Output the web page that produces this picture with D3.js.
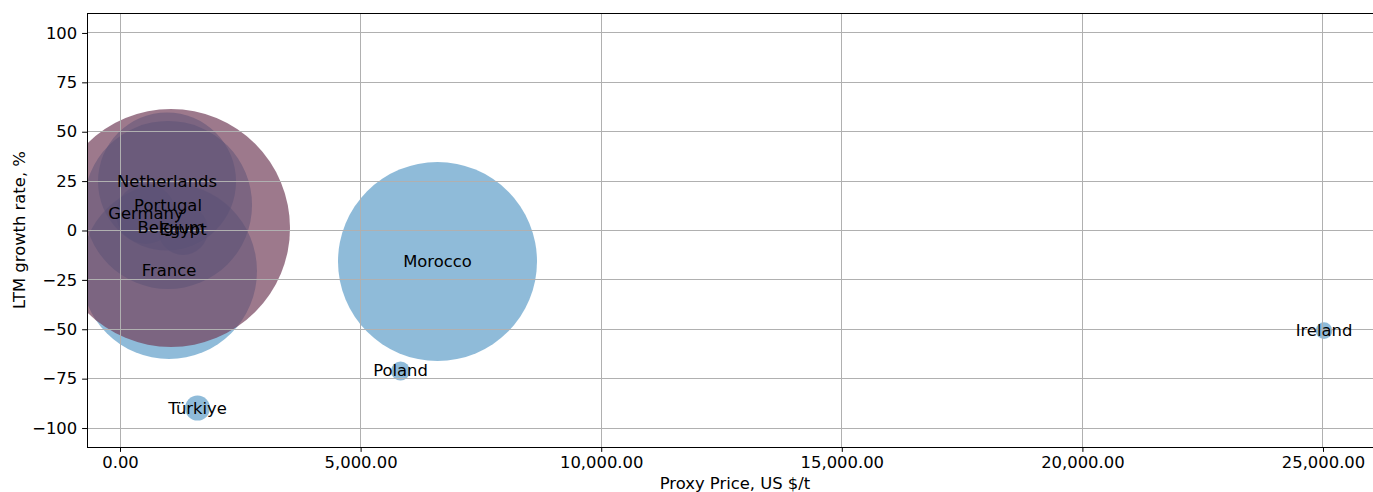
<!DOCTYPE html>
<html>
<head>
<meta charset="utf-8">
<script src="https://cdn.jsdelivr.net/npm/d3@7/dist/d3.min.js"></script>
<style>
  html, body { margin: 0; padding: 0; background: #fff; }
  svg { display: block; }
  text { font-family: "DejaVu Sans", sans-serif; }
</style>
</head>
<body>
<svg id="chart" width="1373" height="492"></svg>
<script>
// ---- data ----
const countries = ["Netherlands", "Portugal", "Germany", "France", "Egypt", "Morocco", "Poland", "Türkiye", "Ireland", "Belgium"];
const proxyPrice = [977, 998, 540, 1018, 1310, 6598, 5829, 1611, 25021, 1060];
const growthRate = [24.8, 12.9, 8.4, -20.5, 0.3, -15.7, -71.1, -89.9, -50.7, 1.3];
const volume = [4761, 7056, 900, 7744, 625, 9900, 90, 156, 69, 14161];
const highlighted = [false, false, false, false, false, false, false, false, false, true];
const xTicks = [0, 5000, 10000, 15000, 20000, 25000];
const yTicks = [-100, -75, -50, -25, 0, 25, 50, 75, 100];
const xLabel = "Proxy Price, US $/t";
const yLabel = "LTM growth rate, %";

// ---- layout ----
const plot = { left: 87, right: 1383, top: 13, bottom: 447 };
const svg = d3.select("#chart");

const x = d3.scaleLinear().domain([-686, 26247]).range([plot.left, plot.right]);
const y = d3.scaleLinear().domain([-109.6, 110.1]).range([plot.bottom, plot.top]);
const r = d3.scaleSqrt().domain([0, 14161]).range([0, 119]);

const fontSize = 16.4;
const data = countries.map((c, i) => ({ name: c, x: proxyPrice[i], y: growthRate[i], v: volume[i], hl: highlighted[i] }));

svg.append("defs").append("clipPath").attr("id", "clip")
  .append("rect").attr("x", plot.left).attr("y", plot.top)
  .attr("width", plot.right - plot.left).attr("height", plot.bottom - plot.top);

// bubbles
const gB = svg.append("g").attr("clip-path", "url(#clip)");
gB.selectAll("circle").data(data).join("circle")
  .attr("cx", d => x(d.x)).attr("cy", d => y(d.y)).attr("r", d => r(d.v))
  .attr("fill", d => d.hl ? "#74405b" : "#1f77b4")
  .attr("fill-opacity", d => d.hl ? 0.7 : 0.5);

// grid (drawn above bubbles)
const gG = svg.append("g").attr("clip-path", "url(#clip)");
gG.selectAll("line.gx").data(xTicks).join("line").attr("class", "gx")
  .attr("x1", d => x(d)).attr("x2", d => x(d)).attr("y1", plot.top).attr("y2", plot.bottom)
  .attr("stroke", "#b0b0b0").attr("stroke-width", 1).attr("shape-rendering", "crispEdges");
gG.selectAll("line.gy").data(yTicks).join("line").attr("class", "gy")
  .attr("y1", d => y(d)).attr("y2", d => y(d)).attr("x1", plot.left).attr("x2", plot.right)
  .attr("stroke", "#b0b0b0").attr("stroke-width", 1).attr("shape-rendering", "crispEdges");

// labels
svg.append("g").selectAll("text").data(data).join("text")
  .attr("x", d => x(d.x)).attr("y", d => y(d.y))
  .attr("text-anchor", "middle").attr("dominant-baseline", "central")
  .attr("font-size", fontSize).attr("fill", "#000").text(d => d.name);

// axes
const fmtX = d3.format(",.2f");
const xAxis = d3.axisBottom(x).tickValues(xTicks).tickFormat(fmtX).tickSize(4.9).tickPadding(4.9);
const yAxis = d3.axisLeft(y).tickValues(yTicks).tickFormat(d => String(d).replace("-", "\u2212")).tickSize(4.9).tickPadding(4.9);

const gx = svg.append("g").attr("transform", `translate(0,${plot.bottom})`).call(xAxis);
const gy = svg.append("g").attr("transform", `translate(${plot.left},0)`).call(yAxis);
[gx, gy].forEach(g => {
  g.select(".domain").remove();
  g.selectAll(".tick line").attr("stroke", "#000").attr("stroke-width", 1);
  g.selectAll(".tick text").attr("font-size", fontSize).attr("fill", "#000").attr("font-family", "DejaVu Sans, sans-serif");
});

// spines
svg.append("rect").attr("x", plot.left + 0.5).attr("y", plot.top + 0.5)
  .attr("width", plot.right - plot.left).attr("height", plot.bottom - plot.top)
  .attr("fill", "none").attr("stroke", "#000").attr("stroke-width", 1);

// axis titles
svg.append("text").attr("x", (plot.left + plot.right) / 2).attr("y", 488.5)
  .attr("text-anchor", "middle").attr("font-size", fontSize).text(xLabel);
svg.append("text").attr("transform", `translate(25,${(plot.top + plot.bottom) / 2}) rotate(-90)`)
  .attr("text-anchor", "middle").attr("font-size", fontSize).text(yLabel);
</script>
</body>
</html>
